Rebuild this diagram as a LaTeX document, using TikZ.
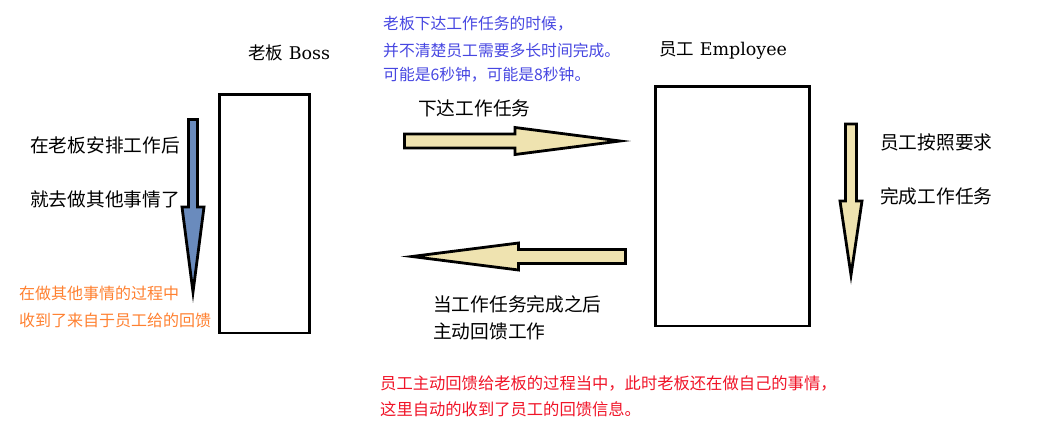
\documentclass[tikz,border=0pt]{standalone}
\usepackage{fontspec}
\setmainfont{DejaVu Serif}
\newfontfamily\cjk{Noto Sans CJK SC}
\definecolor{tan}{RGB}{239,227,176}
\definecolor{steel}{RGB}{106,139,189}
\definecolor{noteblue}{RGB}{70,70,225}
\definecolor{noteorange}{RGB}{255,128,48}
\definecolor{notered}{RGB}{240,20,40}
\begin{document}
\begin{tikzpicture}[x=1pt,y=-1pt,
  box/.style={draw=black,line width=2.5pt,fill=white,inner sep=0pt},
  arrowshape/.style={draw=black,line width=2.8pt,line join=miter,miter limit=20},
  lbl/.style={anchor=west,inner sep=0pt,text=black},
  blk/.style={lbl,font=\cjk\fontsize{18.7}{20}\selectfont},
  ttl/.style={lbl,font=\fontsize{17.5}{20}\selectfont},
  bnote/.style={lbl,text=noteblue,font=\cjk\fontsize{15.8}{17}\selectfont},
  onote/.style={lbl,text=noteorange,font=\cjk\fontsize{16}{18}\selectfont},
  rnote/.style={lbl,text=notered,font=\cjk\fontsize{16.3}{18}\selectfont}]
\useasboundingbox (0,0) rectangle (1044,432);
% boxes
\node[box,minimum width=90pt,minimum height=238.5pt] (boss) at (264.5,213.75) {};
\node[box,minimum width=154pt,minimum height=239.5pt] (emp) at (732.5,206.25) {};
% arrows
\draw[arrowshape,fill=steel] (188.5,119.5) -- (197.5,119.5) -- (197.5,207) -- (204,207) -- (193,292) -- (182,207) -- (188.5,207) -- cycle;
\draw[arrowshape,fill=tan] (404.5,134) -- (515,134) -- (515,127.5) -- (620,141) -- (515,154.5) -- (515,148) -- (404.5,148) -- cycle;
\draw[arrowshape,fill=tan] (625.5,249.5) -- (518.5,249.5) -- (518.5,243) -- (412,256.5) -- (518.5,270) -- (518.5,263.5) -- (625.5,263.5) -- cycle;
\draw[arrowshape,fill=tan] (845.5,124) -- (856.5,124) -- (856.5,201) -- (862,201) -- (851,275) -- (840,201) -- (845.5,201) -- cycle;
% titles
\node[ttl] (tboss) at (248,53) {{\cjk\fontsize{17.5}{18}\selectfont 老板} Boss};
\node[ttl] (temp) at (659,50) {{\cjk\fontsize{17.5}{18}\selectfont 员工} Employee};
% blue note
\node[bnote] (b1) at (383,24) {老板下达工作任务的时候，};
\node[bnote] (b2) at (383,50) {并不清楚员工需要多长时间完成。};
\node[bnote] (b3) at (383,75) {可能是6秒钟，可能是8秒钟。};
% black labels
\node[blk] (xd) at (418,108) {下达工作任务};
\node[blk] (l1) at (30,145) {在老板安排工作后};
\node[blk] (l2) at (30,199) {就去做其他事情了};
\node[blk] (r1) at (880,142) {员工按照要求};
\node[blk] (r2) at (880,196) {完成工作任务};
\node[blk] (m1) at (433,304) {当工作任务完成之后};
\node[blk] (m2) at (433,331) {主动回馈工作};
% orange note
\node[onote] (o1) at (19,293) {在做其他事情的过程中};
\node[onote] (o2) at (19,320) {收到了来自于员工给的回馈};
% red note
\node[rnote] (n1) at (380,383) {员工主动回馈给老板的过程当中，此时老板还在做自己的事情，};
\node[rnote] (n2) at (380,409) {这里自动的收到了员工的回馈信息。};
\end{tikzpicture}
\end{document}
